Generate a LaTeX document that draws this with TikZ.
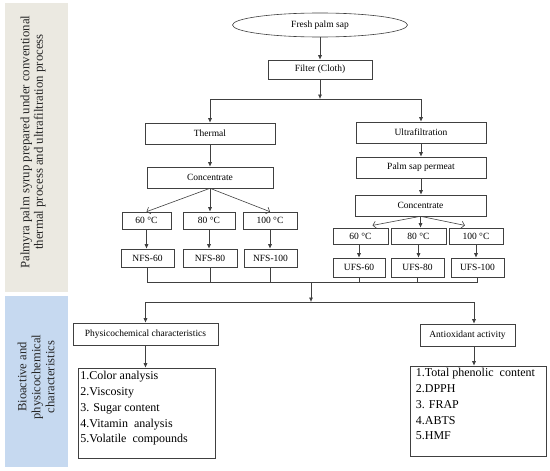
\documentclass[tikz,border=0pt]{standalone}
\usepackage{fontspec}
\setmainfont{Liberation Serif}
\usetikzlibrary{arrows.meta,shapes.geometric,calc}
\definecolor{panelbeige}{HTML}{EBE9E1}
\definecolor{panelblue}{HTML}{C6D9F0}
\definecolor{linegray}{HTML}{404040}
\begin{document}
\begin{tikzpicture}[x=1pt,y=-1pt,
  box/.style={draw=linegray,line width=0.6pt,inner sep=0pt,font=\fontsize{9.5}{11}\selectfont},
  arr/.style={draw=linegray,line width=0.6pt,-{Latex[length=4.5pt,width=4pt]}},
  oarr/.style={draw=linegray,line width=0.6pt,-{Straight Barb[length=3pt,width=7pt]}},
  ln/.style={draw=linegray,line width=0.6pt},
  listtext/.style={anchor=north west,align=left,inner sep=0pt,font=\fontsize{12}{15.8}\selectfont},
  paneltext/.style={rotate=90,align=center,inner sep=0pt,text=black!85}
]
\useasboundingbox (0,0) rectangle (550,471);
% side panels
\fill[panelbeige] (5,3) rectangle (68,292);
\fill[panelblue] (5,296) rectangle (68,467);
\node[paneltext,font=\fontsize{12.8}{13.5}\selectfont] (ptop) at (33,142) {Palmyra palm syrup prepared under conventional\\thermal process and ultrafiltration process};
\node[paneltext,font=\fontsize{12.6}{14}\selectfont] (pbot) at (36,377) {Bioactive and\\physicochemical\\characteristics};

% top of flow
\node[box,ellipse,minimum width=175pt,minimum height=24pt] (fresh) at (320,25) {Fresh palm sap};
\node[box,minimum width=104pt,minimum height=19pt] (filter) at (320,69.5) {Filter (Cloth)};
\coordinate (s1) at (320,99);
\draw[arr] (fresh) -- (filter);
\draw[arr] (filter) -- (s1);

% thermal branch
\node[box,minimum width=130pt,minimum height=21pt] (thermal) at (210,133.5) {Thermal};
\node[box,minimum width=126pt,minimum height=21pt] (concL) at (210,177.5) {Concentrate};
\node[box,minimum width=49pt,minimum height=17pt] (t60) at (146.5,220.5) {60 °C};
\node[box,minimum width=52pt,minimum height=17pt] (t80) at (209,220.5) {80 °C};
\node[box,minimum width=54pt,minimum height=17pt] (t100) at (270,220.5) {100 °C};
\node[box,minimum width=53pt,minimum height=18pt] (n60) at (147.5,258) {NFS-60};
\node[box,minimum width=54pt,minimum height=18pt] (n80) at (210,258) {NFS-80};
\node[box,minimum width=53pt,minimum height=18pt] (n100) at (270.5,258) {NFS-100};

% ultrafiltration branch
\node[box,minimum width=130pt,minimum height=21pt] (ultra) at (421,132.5) {Ultrafiltration};
\node[box,minimum width=130pt,minimum height=21pt] (perm) at (421,167.5) {Palm sap permeat};
\node[box,minimum width=131pt,minimum height=21pt] (concR) at (420.5,205.5) {Concentrate};
\node[box,minimum width=55pt,minimum height=16pt] (r60) at (360.5,236) {60 °C};
\node[box,minimum width=55pt,minimum height=16pt] (r80) at (418.5,236) {80 °C};
\node[box,minimum width=54pt,minimum height=16pt] (r100) at (476,236) {100 °C};
\node[box,minimum width=52pt,minimum height=19pt] (u60) at (359,267.5) {UFS-60};
\node[box,minimum width=53pt,minimum height=19pt] (u80) at (417.5,267.5) {UFS-80};
\node[box,minimum width=53pt,minimum height=19pt] (u100) at (477.5,267.5) {UFS-100};

% split
\draw[arr] (s1) -| (thermal.north);
\draw[arr] (s1) -| (ultra.north);

% thermal chain
\draw[arr] (thermal) -- (concL);
\draw[oarr] (concL.south) -- (t60.north);
\draw[arr] (concL.south) -- (concL.south |- t80.north);
\draw[oarr] (concL.south) -- (t100.north);
\draw[arr] (t60.south) -- (t60.south |- n60.north);
\draw[arr] (t80.south) -- (t80.south |- n80.north);
\draw[arr] (t100.south) -- (t100.south |- n100.north);

% ultrafiltration chain
\draw[arr] (ultra) -- (perm);
\draw[arr] (perm) -- (perm.south |- concR.north);
\draw[oarr] (concR.south) -- ($(concR.south)!0.8!(r60.north)$);
\draw[arr] (concR.south) -- (concR.south |- r80.north);
\draw[oarr] (concR.south) -- ($(concR.south)!0.8!(r100.north)$);
\draw[arr] ([xshift=-1.5pt]r60.south) -- ([xshift=-1.5pt]r60.south |- u60.north);
\draw[arr] (r80.south) -- (r80.south |- u80.north);
\draw[arr] (r100.south) -- (r100.south |- u100.north);

% merge
\coordinate (j1) at (311,282);
\coordinate (j2) at (311,302);
\draw[ln] (n60.south) |- (j1);
\draw[ln] (n80.south) |- (j1);
\draw[ln] (n100.south) |- (j1);
\draw[ln] (u60.south) |- (j1);
\draw[ln] (u80.south) |- (j1);
\draw[ln] (u100.south) |- (j1);
\draw[arr] (j1) -- (j2);

% analysis
\node[box,minimum width=145pt,minimum height=22pt] (phys) at (145.5,334) {Physicochemical characteristics};
\node[box,minimum width=95pt,minimum height=22pt] (anti) at (467.5,335) {Antioxidant activity};
\draw[arr] (j2) -| (phys.north);
\draw[arr] (j2) -| ([xshift=6.5pt]anti.north);

\node[box,minimum width=137pt,minimum height=90pt] (listL) at (146.5,413) {};
\node[box,minimum width=136pt,minimum height=90pt] (listR) at (478,411) {};
\draw[arr] (phys) -- (phys.south |- listL.north);
\draw[arr] ([xshift=6.5pt]anti.south) -- ([xshift=6.5pt]anti.south |- listR.north);

\node[listtext] (listLt) at ([shift={(2.5,3.5)}]listL.north west) {1.Color analysis\\2.Viscosity\\3. Sugar content\\4.Vitamin\ \ analysis\\5.Volatile\ \ compounds};
\node[listtext] (listRt) at ([shift={(6,2.5)}]listR.north west) {1.Total phenolic\ \ content\\2.DPPH\\3. FRAP\\4.ABTS\\5.HMF};
\end{tikzpicture}
\end{document}
